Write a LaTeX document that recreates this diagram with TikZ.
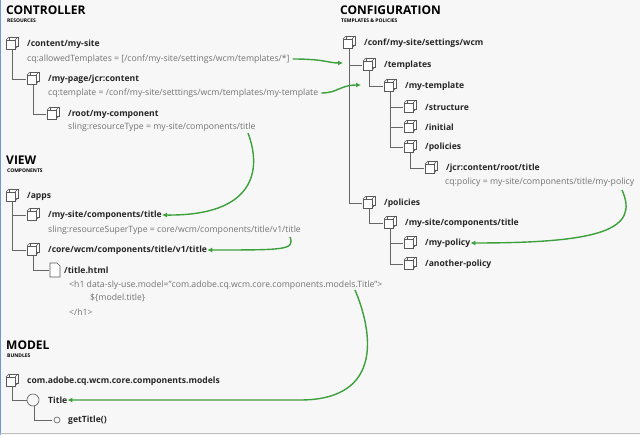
\documentclass[tikz,border=0pt]{standalone}
\usepackage{fontspec}
\setmainfont{Open Sans}
\usetikzlibrary{arrows.meta}
\definecolor{grn}{RGB}{60,160,60}
\tikzset{
 pth/.style={anchor=west,inner sep=0pt,font=\bfseries\fontsize{8.6}{9}\selectfont,text=black!85},
 prop/.style={anchor=west,inner sep=0pt,font=\fontsize{8.7}{9}\selectfont,text=black!55},
 ttl/.style={anchor=west,inner sep=0pt,font=\bfseries\fontsize{12}{12}\selectfont},
 sub/.style={anchor=west,inner sep=0pt,font=\bfseries\fontsize{5}{5}\selectfont},
 tree/.style={draw=black!60,line width=0.6pt},
 link/.style={draw=grn,line width=1.4pt,-{Latex[length=5pt,width=5pt]}},
 ico/.style={draw=black!65,line width=0.6pt}
}
\newcommand\boxicon[2]{%
 \draw[ico,fill=white] (#1-3,#2-7) rectangle (#1+6,#2+2);
 \draw[ico,fill=white] (#1-6,#2-4) rectangle (#1+3,#2+5);
 \draw[ico] (#1-6,#2-4)--(#1-3,#2-7) (#1+3,#2-4)--(#1+6,#2-7) (#1+3,#2+5)--(#1+6,#2+2);}
\newcommand\tnode[4]{\boxicon{#2}{#3}\node[pth] (#1) at (#2+15,#3) {#4};}
\newcommand\branch[4]{\draw[tree] (#1,#2+6) |- (#3-7,#4);}
\begin{document}
\begin{tikzpicture}[x=1pt,y=-1pt]
\useasboundingbox (0,0) rectangle (640,435);
\fill[black!3] (0,0) rectangle (640,435);
\draw[cyan!50!blue!60,line width=1.2pt] (0.6,0)--(0.6,435);
\draw[black!25] (0,433) -- (640,433);
% CONTROLLER
\node[ttl] (tc) at (6,10) {CONTROLLER};
\node[sub] (sc) at (7,21) {RESOURCES};
\tnode{a1}{12}{44}{/content/my-site}
\node[prop] (p1) at (27,59) {cq:allowedTemplates = [/conf/my-site/settings/wcm/templates/*]};
\branch{12}{44}{33}{79}
\tnode{a2}{33}{79}{/my-page/jcr:content}
\node[prop] (p2) at (48,93) {cq:template = /conf/my-site/setttings/wcm/templates/my-template};
\branch{33}{79}{53}{114}
\tnode{a3}{53}{114}{/root/my-component}
\node[prop] (p3) at (68,127) {sling:resourceType = my-site/components/title};
% VIEW
\node[ttl] (tv) at (6,160) {VIEW};
\node[sub] (sv) at (7,171) {COMPONENTS};
\tnode{v1}{12}{196}{/apps}
\branch{12}{196}{33}{215}
\tnode{v2}{33}{215}{/my-site/components/title}
\node[prop] (p4) at (48,230) {sling:resourceSuperType = core/wcm/components/title/v1/title};
\draw[tree] (12,215) |- (26,250);
\tnode{v3}{33}{250}{/core/wcm/components/title/v1/title}
\draw[tree] (33,256) |- (49,270);
\draw[ico,fill=white] (50,263) -- (57,263) -- (60,266) -- (60,277) -- (50,277) -- cycle;
\node[pth] (v4) at (64,270) {/title.html};
\node[prop] (h1) at (69,285) {<h1 data-sly-use.model="com.adobe.cq.wcm.core.components.models.Title">};
\node[prop] (h2) at (90,298) {\$\{model.title\}};
\node[prop] (h3) at (69,312) {</h1>};
% MODEL
\node[ttl] (tm) at (6,345) {MODEL};
\node[sub] (sm) at (7,356) {BUNDLES};
\tnode{m1}{12}{381}{com.adobe.cq.wcm.core.components.models}
\draw[tree] (12,387) |- (27,400);
\draw[ico] (33,400) circle (6);
\node[pth] (m2) at (48,400) {Title};
\draw[tree] (34,406) |- (52,420);
\draw[ico] (57,420) circle (3);
\node[pth] (m3) at (68,420) {getTitle()};
% CONFIGURATION
\node[ttl] (tf) at (340,10) {CONFIGURATION};
\node[sub] (sf) at (341,21) {TEMPLATES \& POLICIES};
\tnode{c1}{349}{43}{/conf/my-site/settings/wcm}
\branch{349}{43}{369}{65}
\draw[tree] (349,65) |- (362,203);
\tnode{c2}{369}{65}{/templates}
\branch{369}{65}{390}{86}
\tnode{c3}{390}{86}{/my-template}
\branch{390}{86}{410}{107}
\draw[tree] (390,107) |- (403,127);
\draw[tree] (390,127) |- (403,147);
\tnode{c4}{410}{107}{/structure}
\tnode{c5}{410}{127}{/initial}
\tnode{c6}{410}{147}{/policies}
\branch{410}{147}{431}{168}
\tnode{c7}{431}{168}{/jcr:content/root/title}
\node[prop] (p5) at (445,182) {cq:policy = my-site/components/title/my-policy};
\tnode{c8}{369}{203}{/policies}
\branch{369}{203}{390}{223}
\tnode{c9}{390}{223}{/my-site/components/title}
\branch{390}{223}{410}{243}
\draw[tree] (390,243) |- (403,264);
\tnode{c10}{410}{243}{/my-policy}
\tnode{c11}{410}{264}{/another-policy}
% links
\draw[link] (p1.east) ++(3,0) .. controls (325,59) and (328,63) .. (343,63);
\draw[link] (p2.east) ++(3,0) .. controls (338,93) and (340,85) .. (361,85);
\draw[link] (248,133) .. controls (262,170) and (255,216) .. (v2.east);
\draw[link] (290,237) .. controls (295,250) and (285,250) .. (v3.east);
\draw[link] (622,190) .. controls (640,230) and (600,243) .. (c10.east);
\draw[link] (355,290) .. controls (372,330) and (385,400) .. (300,400) -- (m2.east);
\end{tikzpicture}
\end{document}
